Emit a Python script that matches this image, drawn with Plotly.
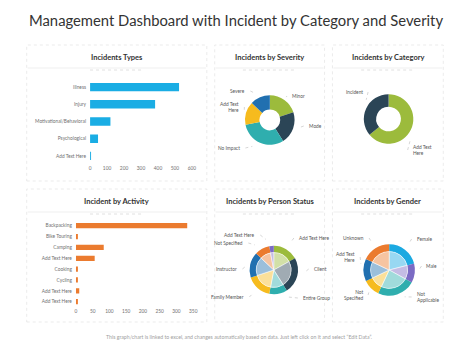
import math
import plotly.graph_objects as go

W, H = 474, 351

# ---------------- data ----------------
types_names = ["Illness", "Injury", "Motivational/Behavioral", "Psychological", "Add Text Here"]
types_values = [524, 383, 120, 47, 2]

activity_names = ["Backpacking", "Bike Touring", "Camping", "Add Text Here", "Cooking",
                  "Cycling", "Add Text Here", "Add Text Here"]
activity_values = [332, 4, 83, 56, 6, 3, 10, 3]

severity_names = ["Minor", "Mode", "No Impact", "Add Text Here", "Severe"]
severity_values = [20, 21, 31, 15, 13]

category_names = ["Add Text Here", "Incident"]
category_values = [64, 36]

person_names = ["Add Text Here", "Client", "Entire Group", "Family Member", "Instructor",
                "Not Specified", "Add Text Here"]
person_values = [17, 24, 12, 17, 17, 10, 3]

gender_names = ["Female", "Male", "Not Applicable", "Not Specified", "Add Text Here", "Unknown"]
gender_values = [21, 12, 24, 11, 14, 18]

# ---------------- styles ----------------
GREEN, DARK, TEAL, YELLOW, BLUE, ORANGE, PURPLE, SKY = (
    "#9CBB3C", "#2B4556", "#2FAEAE", "#F6BB1E", "#2170B0", "#EB7B2F", "#7B6BC4", "#1BA9E1")
severity_colors = [GREEN, DARK, TEAL, YELLOW, BLUE]
category_colors = [GREEN, DARK]
person_colors = [GREEN, DARK, TEAL, YELLOW, BLUE, ORANGE, PURPLE]
gender_colors = [SKY, PURPLE, TEAL, YELLOW, BLUE, ORANGE]
FONT = "Lato"


def fx(x):
    return x / W


def fy(y):
    return 1 - y / H


def lighten(hexc, a=0.45):
    r, g, b = int(hexc[1:3], 16), int(hexc[3:5], 16), int(hexc[5:7], 16)
    r, g, b = [round(c * a + 255 * (1 - a)) for c in (r, g, b)]
    return f"rgb({r},{g},{b})"


fig = go.Figure()

# ---------------- bar charts ----------------
fig.add_trace(go.Bar(x=types_values, y=list(range(len(types_names))), orientation="h",
                     marker=dict(color="#1AADE4", line=dict(width=0)), xaxis="x", yaxis="y",
                     hoverinfo="x+y"))
fig.add_trace(go.Bar(x=activity_values, y=list(range(len(activity_names))), orientation="h",
                     marker=dict(color=ORANGE, line=dict(width=0)), xaxis="x2", yaxis="y2",
                     hoverinfo="x+y"))

tickfont = dict(family=FONT, size=4.8, color="#707070")
fig.update_layout(
    xaxis=dict(domain=[fx(90), fx(193)], range=[0, 600], dtick=100, anchor="y",
               showgrid=False, zeroline=False, showline=False, tickfont=tickfont, ticks=""),
    yaxis=dict(domain=[fy(164.6), fy(78.4)], range=[len(types_names) - 0.5, -0.5],
               tickvals=list(range(len(types_names))), ticktext=types_names, anchor="x",
               showgrid=False, zeroline=False, tickfont=tickfont, ticks="", ticklabelstandoff=3),
    xaxis2=dict(domain=[fx(75.7), fx(194.3)], range=[0, 350], dtick=50, anchor="y2",
                showgrid=False, zeroline=False, showline=False, tickfont=tickfont, ticks=""),
    yaxis2=dict(domain=[fy(307.1), fy(220.3)], range=[len(activity_names) - 0.5, -0.5],
                tickvals=list(range(len(activity_names))), ticktext=activity_names, anchor="x2",
                showgrid=False, zeroline=False, tickfont=tickfont, ticks="", ticklabelstandoff=3),
    bargap=0.52,
)

# ---------------- pies ----------------
annotations = []
shapes = []


def add_pie(key, values, colors, cx, cy, R, hole, inner=None):
    labels = [f"{key}{i}" for i in range(len(values))]
    fig.add_trace(go.Pie(values=values, labels=labels,
                         marker=dict(colors=colors, line=dict(width=0)), hole=hole,
                         sort=False, direction="clockwise", rotation=0, textinfo="none",
                         showlegend=False, hoverinfo="value+percent",
                         domain=dict(x=[fx(cx - R), fx(cx + R)], y=[fy(cy + R), fy(cy - R)])))
    if inner:
        fig.add_trace(go.Pie(values=values, labels=[l + "i" for l in labels],
                             marker=dict(colors=[lighten(c) for c in colors],
                                         line=dict(width=0.5, color="white")),
                             sort=False, direction="clockwise", rotation=0, textinfo="none",
                             showlegend=False, hoverinfo="value+percent",
                             domain=dict(x=[fx(cx - inner), fx(cx + inner)],
                                         y=[fy(cy + inner), fy(cy - inner)])))


add_pie("sev", severity_values, severity_colors, 271.7, 120, 25, 0.42)
add_pie("cat", category_values, category_colors, 391.7, 119, 25, 0.5)
add_pie("per", person_values, person_colors, 275.7, 270, 24.5, 0.72, inner=17.6)
add_pie("gen", gender_values, gender_colors, 392.3, 270, 26, 0.72, inner=18.7)


def pie_labels(names, values, cx, cy, R, positions, two_line):
    tot = sum(values)
    cum = 0
    for i, (name, v) in enumerate(zip(names, values)):
        mid = (cum + v / 2) / tot * 2 * math.pi
        cum += v
        lx, ly, side = positions[i]
        txt = name
        if i in two_line:
            parts = name.rsplit(" ", 1)
            txt = parts[0] + "<br>" + parts[1]
        annotations.append(dict(x=fx(lx), y=fy(ly), xref="paper", yref="paper", text=txt,
                                showarrow=False, xanchor="right" if side == "L" else "left",
                                yanchor="middle", align="left" if side == "R" else "right",
                                font=dict(family=FONT, size=4.8, color="#555")))
        px_, py_ = cx + (R + 2) * math.sin(mid), cy - (R + 2) * math.cos(mid)
        ex = lx + 3 if side == "L" else lx - 3
        shapes.append(dict(type="line", xref="paper", yref="paper", x0=fx(ex), y0=fy(ly),
                           x1=fx(ex + (px_ - ex) * 0.5), y1=fy(ly + (py_ - ly) * 0.5),
                           line=dict(color="#BBBBBB", width=0.6, dash="dot")))


pie_labels(severity_names, severity_values, 271.7, 120, 25,
           [(292, 96, "R"), (309, 126, "R"), (244, 148, "L"), (243, 107, "L"), (249, 91, "L")],
           two_line={3})
pie_labels(category_names, category_values, 391.7, 119, 25,
           [(414, 150, "R"), (368, 92, "L")], two_line={0})
pie_labels(person_names, person_values, 275.7, 270, 24.5,
           [(299, 238, "R"), (314, 269, "R"), (303, 298, "R"), (248, 297, "L"),
            (241, 269, "L"), (247, 243, "L"), (259, 235, "L")], two_line=set())
pie_labels(gender_names, gender_values, 392.3, 270, 26,
           [(418, 239, "R"), (428, 266, "R"), (418, 297, "R"), (368, 295, "L"),
            (360, 257, "L"), (369, 238, "L")], two_line={2, 3, 4})

# ---------------- panels ----------------
panels = [
    (26, 45, 208, 181, "Incidents Types"),
    (216, 45, 327, 181, "Incidents by Severity"),
    (335, 45, 447, 181, "Incidents by Category"),
    (26, 189, 208, 322, "Incident by Activity"),
    (216, 189, 327, 322, "Incidents by Person Status"),
    (335, 189, 447, 322, "Incidents by Gender"),
]
bg_shapes = []
for x0, y0, x1, y1, title in panels:
    bg_shapes.append(dict(type="rect", xref="paper", yref="paper", x0=fx(x0), y0=fy(y1),
                          x1=fx(x1), y1=fy(y0), layer="below", fillcolor="#FFFFFF",
                          line=dict(color="#E2E2E2", width=0.7, dash="dot")))
    bg_shapes.append(dict(type="line", xref="paper", yref="paper", x0=fx(x0 + 1), x1=fx(x1 - 1),
                          y0=fy(y0 + 23), y1=fy(y0 + 23), layer="below",
                          line=dict(color="#EBEBEB", width=0.8)))
    cxp = (x0 + x1) / 2
    bg_shapes.append(dict(type="line", xref="paper", yref="paper", x0=fx(cxp - 27), x1=fx(cxp + 27),
                          y0=fy(y0 + 25), y1=fy(y0 + 25), layer="below",
                          line=dict(color="#D8D8D8", width=0.8, dash="dot")))
    annotations.append(dict(x=fx(cxp), y=fy(y0 + 12.5), xref="paper", yref="paper", text=f"<b>{title}</b>",
                            showarrow=False, xanchor="center", yanchor="middle",
                            font=dict(family=FONT, size=7.5, color="#333")))

annotations.append(dict(x=0.5, y=fy(20), xref="paper", yref="paper",
                        text="Management Dashboard with Incident by Category and Severity",
                        showarrow=False, xanchor="center", yanchor="middle",
                        font=dict(family=FONT, size=14.8, color="#333")))
annotations.append(dict(x=fx(241), y=fy(337), xref="paper", yref="paper",
                        text="This graph/chart is linked to excel, and changes automatically based on data. "
                             "Just left click on it and select \u201cEdit Data\u201d.",
                        showarrow=False, xanchor="center", yanchor="middle",
                        font=dict(family=FONT, size=5.2, color="#A0A0A0")))

fig.update_layout(width=W, height=H, margin=dict(l=0, r=0, t=0, b=0), autosize=False,
                  paper_bgcolor="white", plot_bgcolor="rgba(0,0,0,0)", showlegend=False,
                  shapes=bg_shapes + shapes, annotations=annotations)

fig.write_html("out.html")
